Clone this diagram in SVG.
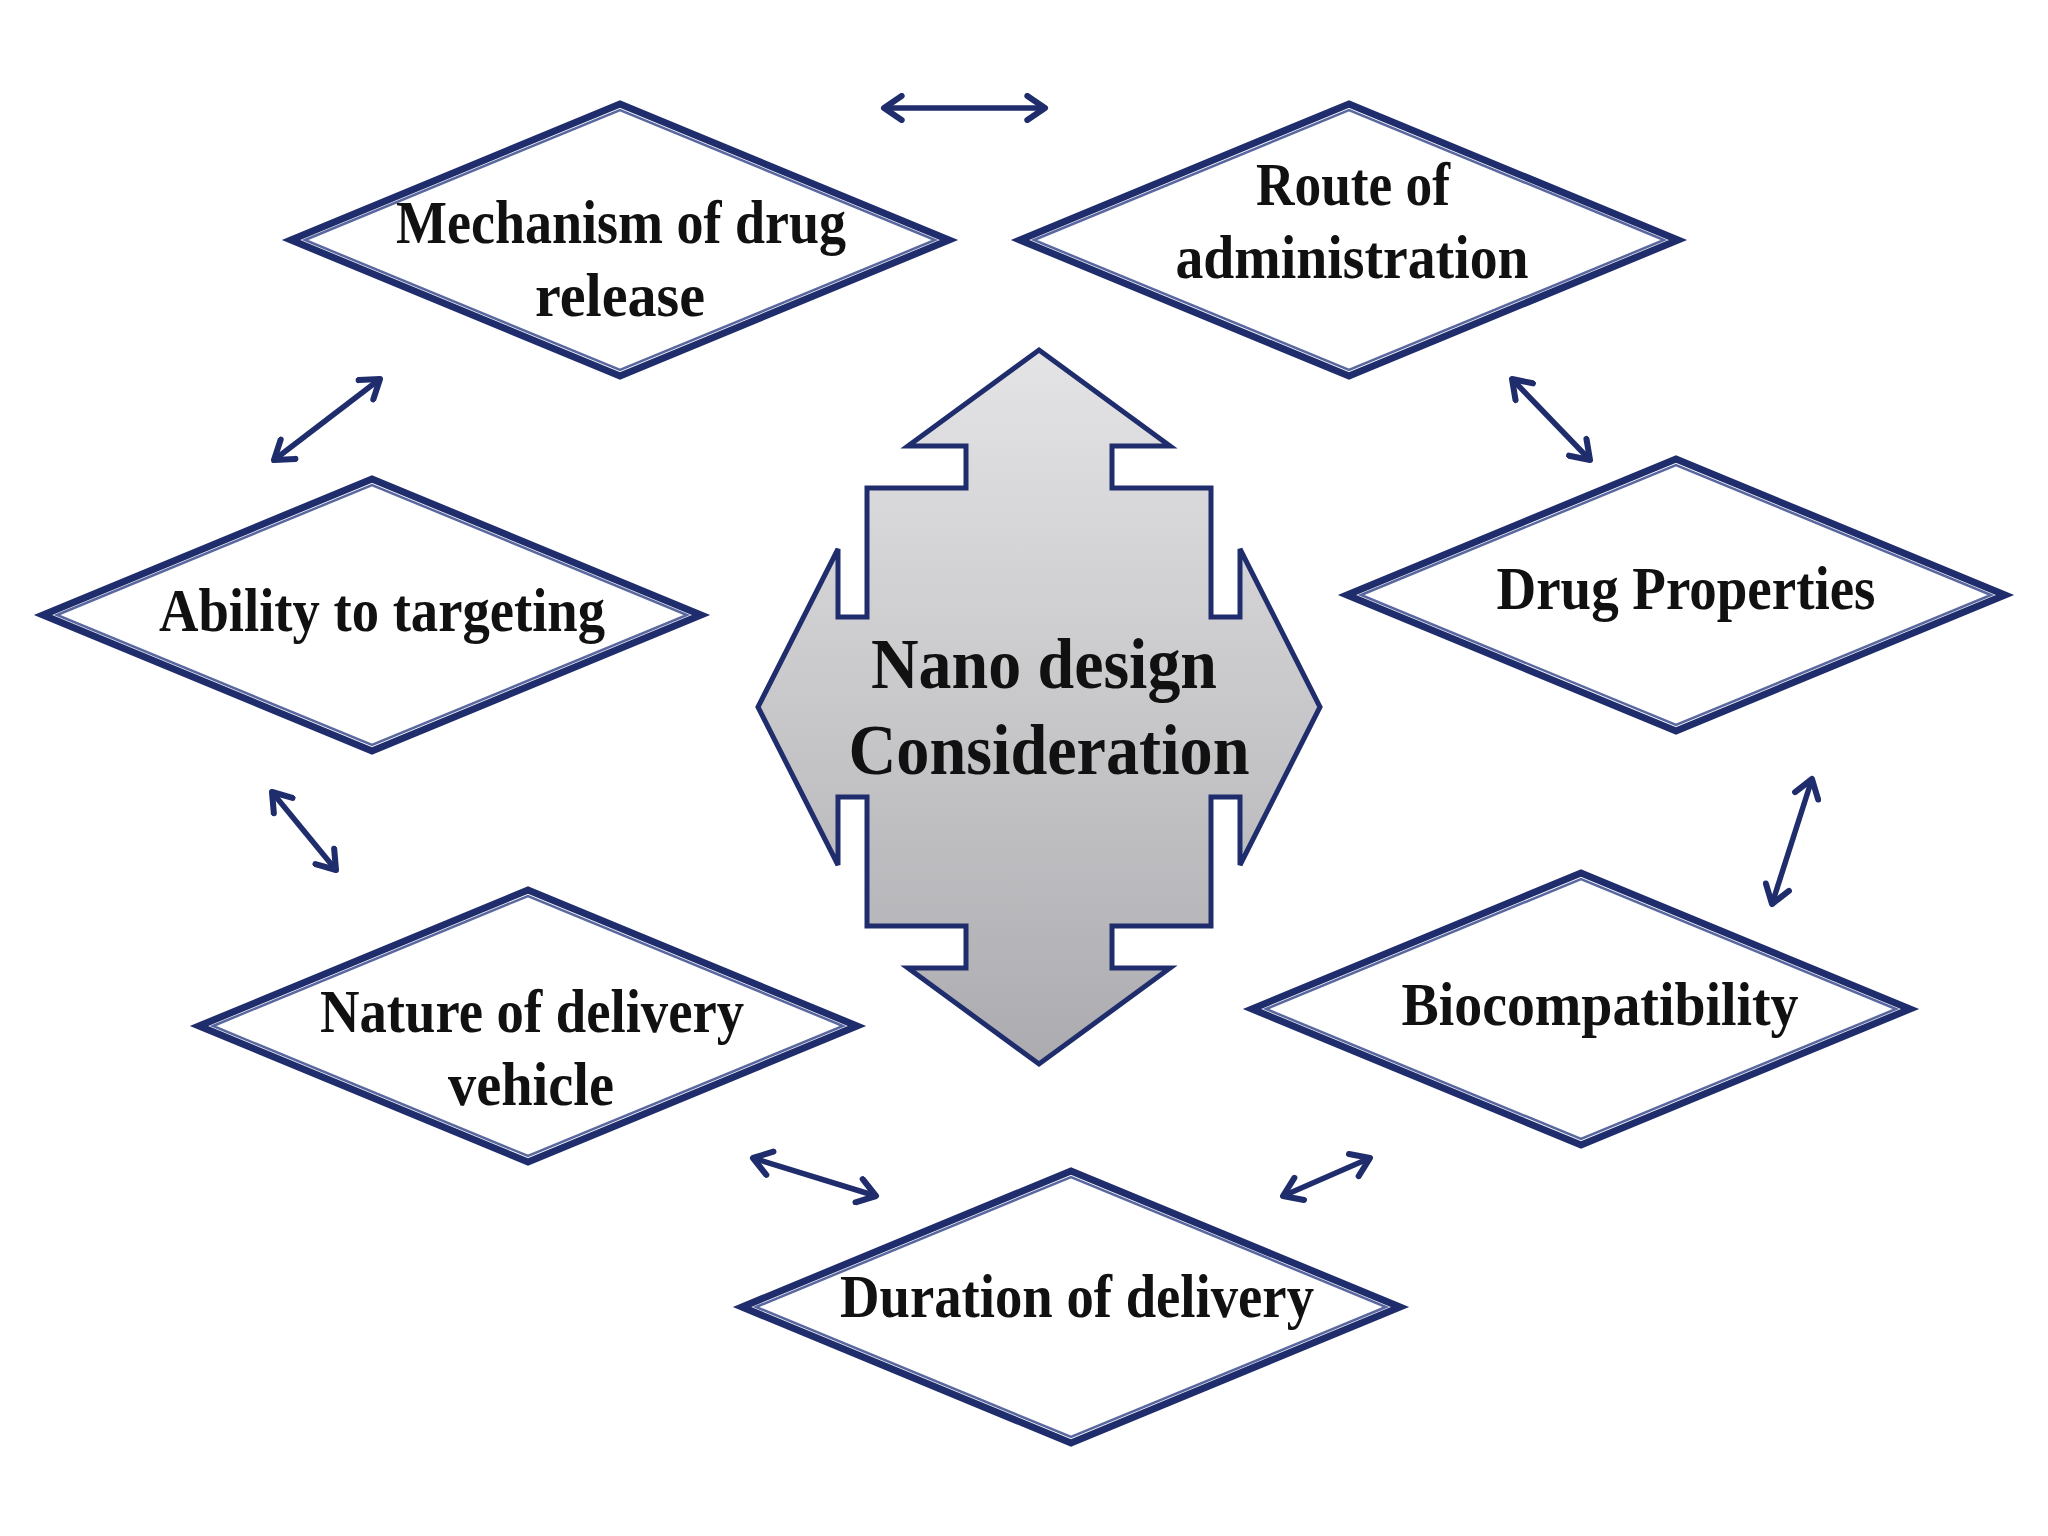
<svg xmlns="http://www.w3.org/2000/svg" width="2048" height="1536" viewBox="0 0 2048 1536">
<defs>
<style>
.dia-o{fill:#ffffff;stroke:#1f2d6c;stroke-width:7;stroke-linejoin:miter}
.dia-i{fill:none;stroke:#5a68a0;stroke-width:2.5}
.lbl{font-family:"Liberation Serif","Times New Roman",serif;font-weight:bold;font-size:62px;fill:#111111;text-anchor:middle}
.ctr{font-family:"Liberation Serif","Times New Roman",serif;font-weight:bold;font-size:72px;fill:#111111;text-anchor:middle}
.con{fill:none;stroke:#1f2d6c;stroke-width:5.5;marker-start:url(#ah);marker-end:url(#ah)}
</style>
<marker id="ah" viewBox="0 0 12 12" refX="10" refY="6" markerWidth="5.5" markerHeight="5.5" orient="auto-start-reverse" markerUnits="strokeWidth">
<polyline points="3,1.2 10,6 3,10.8" fill="none" stroke="#1f2d6c" stroke-width="2.4" stroke-linecap="round" stroke-linejoin="round"/>
</marker>
<linearGradient id="gr" x1="0" y1="0" x2="0" y2="1">
<stop offset="0" stop-color="#e4e4e6"/>
<stop offset="1" stop-color="#acacb0"/>
</linearGradient>
<polygon id="dout" points="-329,0 0,-136 329,0 0,136"/>
<polygon id="din" points="-315,0 0,-130 315,0 0,130"/>
</defs>
<rect width="2048" height="1536" fill="#ffffff"/>

<g id="connectors">
<line class="con" x1="884" y1="108" x2="1045" y2="108"/>
<line class="con" x1="380" y1="379" x2="274" y2="460"/>
<line class="con" x1="1512" y1="379" x2="1590" y2="460"/>
<line class="con" x1="272" y1="792" x2="336" y2="870"/>
<line class="con" x1="1812" y1="779" x2="1772" y2="904"/>
<line class="con" x1="753" y1="1158" x2="876" y2="1196"/>
<line class="con" x1="1370" y1="1158" x2="1283" y2="1196"/>
</g>

<g id="center">
<path d="M1039,350 L1170,446 L1112,446 L1112,488 L1211,488 L1211,617 L1240,617 L1240,549 L1320,707 L1240,865 L1240,797 L1211,797 L1211,926 L1112,926 L1112,968 L1170,968 L1039,1064 L908,968 L966,968 L966,926 L867,926 L867,797 L838,797 L838,865 L758,707 L838,549 L838,617 L867,617 L867,488 L966,488 L966,446 L908,446 Z" fill="url(#gr)" stroke="#1f2d6c" stroke-width="5" stroke-linejoin="miter"/>
<text class="ctr" x="1044" y="688" textLength="346" lengthAdjust="spacingAndGlyphs">Nano design</text>
<text class="ctr" x="1049" y="774" textLength="401" lengthAdjust="spacingAndGlyphs">Consideration</text>
</g>

<g id="mechanism" transform="translate(620,240)">
<use href="#dout" class="dia-o"/><use href="#din" class="dia-i"/>
<text class="lbl" x="1" y="3" textLength="450" lengthAdjust="spacingAndGlyphs">Mechanism of drug</text>
<text class="lbl" x="0" y="76" textLength="170" lengthAdjust="spacingAndGlyphs">release</text>
</g>

<g id="route" transform="translate(1349,240)">
<use href="#dout" class="dia-o"/><use href="#din" class="dia-i"/>
<text class="lbl" x="4" y="-35" textLength="194" lengthAdjust="spacingAndGlyphs">Route of</text>
<text class="lbl" x="3" y="38" textLength="353" lengthAdjust="spacingAndGlyphs">administration</text>
</g>

<g id="drug-properties" transform="translate(1676,595)">
<use href="#dout" class="dia-o"/><use href="#din" class="dia-i"/>
<text class="lbl" x="10" y="14" textLength="379" lengthAdjust="spacingAndGlyphs">Drug Properties</text>
</g>

<g id="ability" transform="translate(372,615)">
<use href="#dout" class="dia-o"/><use href="#din" class="dia-i"/>
<text class="lbl" x="10" y="16" textLength="446" lengthAdjust="spacingAndGlyphs">Ability to targeting</text>
</g>

<g id="nature" transform="translate(528,1026)">
<use href="#dout" class="dia-o"/><use href="#din" class="dia-i"/>
<text class="lbl" x="4" y="6" textLength="424" lengthAdjust="spacingAndGlyphs">Nature of delivery</text>
<text class="lbl" x="3" y="79" textLength="166" lengthAdjust="spacingAndGlyphs">vehicle</text>
</g>

<g id="biocompatibility" transform="translate(1581,1009)">
<use href="#dout" class="dia-o"/><use href="#din" class="dia-i"/>
<text class="lbl" x="19" y="16" textLength="397" lengthAdjust="spacingAndGlyphs">Biocompatibility</text>
</g>

<g id="duration" transform="translate(1071,1307)">
<use href="#dout" class="dia-o"/><use href="#din" class="dia-i"/>
<text class="lbl" x="6" y="10" textLength="474" lengthAdjust="spacingAndGlyphs">Duration of delivery</text>
</g>
</svg>
